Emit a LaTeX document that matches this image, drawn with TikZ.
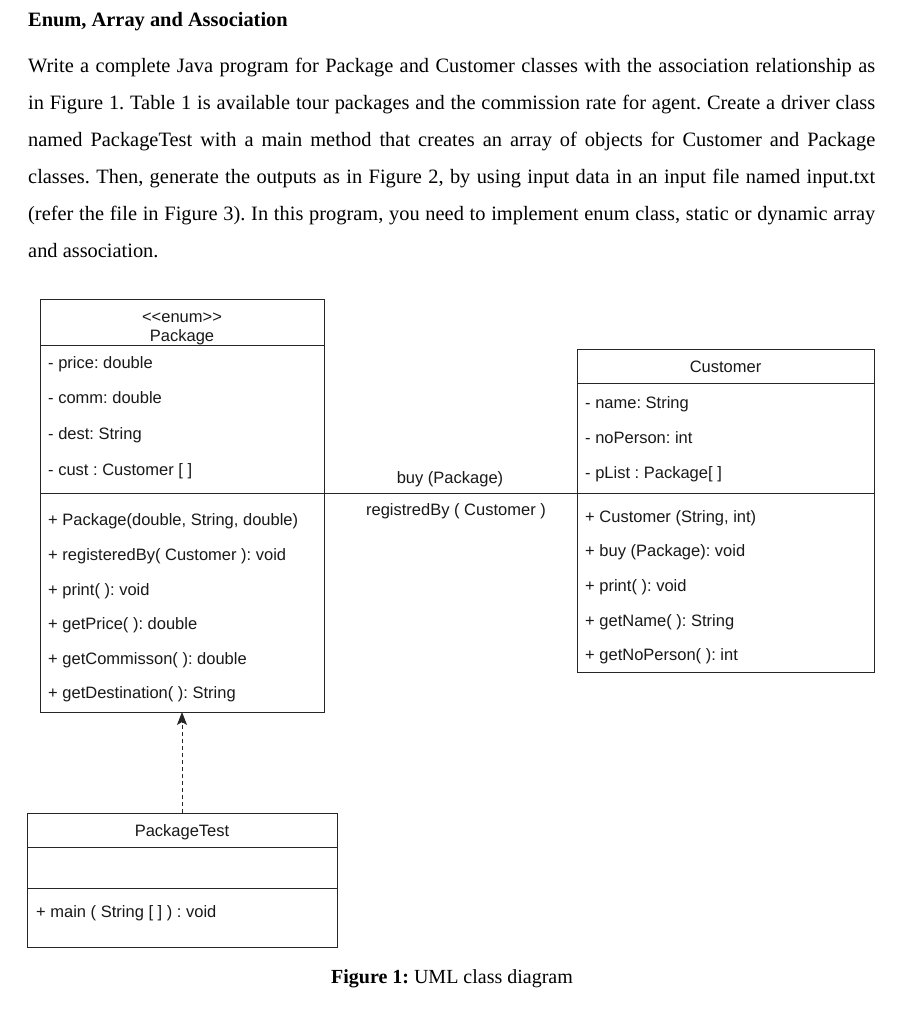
\documentclass[tikz,border=0pt]{standalone}
\usepackage{fontspec}
\setmainfont{Liberation Serif}
\newfontfamily\umlfont{Liberation Sans}
\usetikzlibrary{arrows.meta}
\frenchspacing

\begin{document}
\begin{tikzpicture}[x=1pt, y=-1pt,
    txt/.style={anchor=base west, inner sep=0pt, font=\fontsize{20.4}{24}\selectfont},
    cls/.style={draw=black!85, line width=0.9pt, anchor=north west, inner sep=0pt, outer sep=0pt},
    mem/.style={anchor=base west, inner sep=0pt, text=black!90, font=\umlfont\fontsize{16.5}{19}\selectfont},
    hd/.style={anchor=base, inner sep=0pt, text=black!90, font=\umlfont\fontsize{16.5}{19}\selectfont},
    dep/.style={draw=black!85, line width=1pt, dash pattern=on 4pt off 3pt, -{Stealth[length=13pt, width=10pt, inset=3pt, sep=0pt]}}]
  \useasboundingbox[fill=white] (0,0) rectangle (911,1024);

  \node[txt, font=\bfseries\fontsize{20.4}{24}\selectfont] (title) at (28,27) {Enum, Array and Association};
  \node[txt] (l1) at (28,73) {\makebox[847pt][s]{Write a complete Java program for Package and Customer classes with the association relationship as}};
  \node[txt] (l2) at (28,110) {\makebox[847pt][s]{in Figure 1. Table 1 is available tour packages and the commission rate for agent. Create a driver class}};
  \node[txt] (l3) at (28,147) {\makebox[847pt][s]{named PackageTest with a main method that creates an array of objects for Customer and Package}};
  \node[txt] (l4) at (28,184) {\makebox[847pt][s]{classes. Then, generate the outputs as in Figure 2, by using input data in an input file named input.txt}};
  \node[txt] (l5) at (28,221) {\makebox[847pt][s]{(refer the file in Figure 3). In this program, you need to implement enum class, static or dynamic array}};
  \node[txt] (l6) at (28,258) {and association.};

  \node[cls, minimum width=284pt, minimum height=46pt] (pkghead) at (40,299) {};
  \node[cls, minimum width=284pt, minimum height=148pt] (pkgattr) at (pkghead.south west) {};
  \node[cls, minimum width=284pt, minimum height=219pt] (pkgops) at (pkgattr.south west) {};
  \node[hd] (enumtag) at (182,322) {{<}{<}enum{>}{>}};
  \node[hd] (pkgname) at (182,341) {Package};
  \node[mem] (pa1) at (48,368) {- price: double};
  \node[mem] (pa2) at (48,403) {- comm: double};
  \node[mem] (pa3) at (48,439) {- dest: String};
  \node[mem] (pa4) at (48,475) {- cust : Customer [ ]};
  \node[mem] (pm1) at (48,525) {+ Package(double, String, double)};
  \node[mem] (pm2) at (48,560) {+ registeredBy( Customer ): void};
  \node[mem] (pm3) at (48,595) {+ print( ): void};
  \node[mem] (pm4) at (48,629) {+ getPrice( ): double};
  \node[mem] (pm5) at (48,664) {+ getCommisson( ): double};
  \node[mem] (pm6) at (48,698) {+ getDestination( ): String};

  \node[cls, minimum width=297pt, minimum height=34pt] (custhead) at (577,349) {};
  \node[cls, minimum width=297pt, minimum height=110pt] (custattr) at (custhead.south west) {};
  \node[cls, minimum width=297pt, minimum height=179pt] (custops) at (custattr.south west) {};
  \node[hd] (custname) at (725.5,372) {Customer};
  \node[mem] (ca1) at (585,408) {- name: String};
  \node[mem] (ca2) at (585,443) {- noPerson: int};
  \node[mem] (ca3) at (585,478) {- pList : Package[ ]};
  \node[mem] (cm1) at (585,522) {+ Customer (String, int)};
  \node[mem] (cm2) at (585,556) {+ buy (Package): void};
  \node[mem] (cm3) at (585,591) {+ print( ): void};
  \node[mem] (cm4) at (585,626) {+ getName( ): String};
  \node[mem] (cm5) at (585,660) {+ getNoPerson( ): int};

  \draw[draw=black!85, line width=0.9pt] (pkgattr.south east) -- (custattr.south west);
  \node[hd] (buylbl) at (450,483) {buy (Package)};
  \node[hd] (reglbl) at (456,515) {registredBy ( Customer )};

  \node[cls, minimum width=310pt, minimum height=34pt] (testhead) at (27,813) {};
  \node[cls, minimum width=310pt, minimum height=41pt] (testattr) at (testhead.south west) {};
  \node[cls, minimum width=310pt, minimum height=59pt] (testops) at (testattr.south west) {};
  \node[hd] (testname) at (182,836) {PackageTest};
  \node[mem] (tm1) at (36,917) {+ main ( String [ ] ) : void};

  \draw[dep] (testhead.north) -- (pkgops.south);

  \node[anchor=base, inner sep=0pt, font=\fontsize{20}{24}\selectfont] (cap) at (452,983) {\textbf{Figure 1:} UML class diagram};
\end{tikzpicture}
\end{document}
